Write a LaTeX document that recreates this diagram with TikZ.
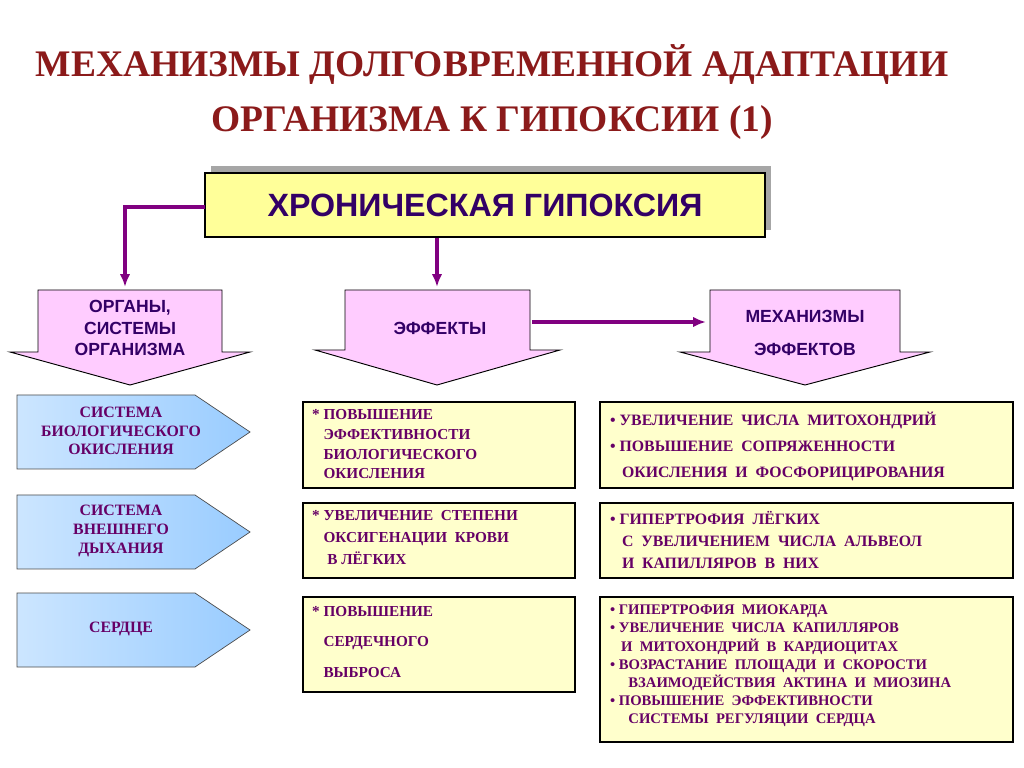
\documentclass[tikz,border=0pt]{standalone}
\usepackage{fontspec}
\usetikzlibrary{arrows.meta}
\setmainfont{Liberation Serif}
\setsansfont{Liberation Sans}
\begin{document}
\begin{tikzpicture}[x=0.03cm,y=-0.03cm]
\definecolor{ttl}{HTML}{8B1A1A}
\definecolor{pur}{HTML}{660066}
\definecolor{dpur}{HTML}{330066}
\definecolor{conn}{HTML}{800080}
\definecolor{yel}{HTML}{FFFF99}
\definecolor{lyel}{HTML}{FFFFCC}
\definecolor{pink}{HTML}{FFCCFF}
\definecolor{lblue}{HTML}{99CCFF}
\tikzset{
 ttltext/.style={font=\fontsize{32}{38}\bfseries, text=ttl},
 downarr/.style={fill=pink, draw=black, line width=0.8pt},
 blarr/.style={left color=lblue!50, right color=lblue, draw=black!70, line width=0.6pt},
 ybox/.style={draw=black, line width=2.4pt, fill=lyel},
 btxt/.style={font=\fontsize{13}{17}\selectfont\bfseries, text=pur, align=left, anchor=north west},
 ltxt/.style={font=\fontsize{13.5}{16}\selectfont\bfseries, text=pur, align=center},
 atxt/.style={font=\sffamily\fontsize{15}{18}\selectfont\bfseries, text=dpur, align=center},
 conline/.style={draw=conn, line width=3pt, -{Latex[length=11pt,width=9pt]}}
}
\useasboundingbox (0,0) rectangle (1024,768);
\fill[white] (0,0) rectangle (1024,768);
\node[ttltext] (t1) at (492,65) {МЕХАНИЗМЫ ДОЛГОВРЕМЕННОЙ АДАПТАЦИИ};
\node[ttltext] (t2) at (492,122) {ОРГАНИЗМА К ГИПОКСИИ (1)};
% main box
\fill[gray!70] (211,166) rectangle (771,230);
\node[draw=black, line width=2.4pt, fill=yel, minimum width=560*0.03cm, minimum height=64*0.03cm,
 font=\sffamily\fontsize{27.5}{30}\selectfont\bfseries, text=dpur] (hb) at (485,205) {ХРОНИЧЕСКАЯ ГИПОКСИЯ};
% down arrows
\draw[downarr] (38,290) -- (222,290) -- (222,352) -- (250,352) -- (130,385) -- (10,352) -- (38,352) -- cycle;
\draw[downarr] (345,290) -- (530,290) -- (530,350) -- (560,350) -- (437,385) -- (315,350) -- (345,350) -- cycle;
\draw[downarr] (710,290) -- (900,290) -- (900,352) -- (930,352) -- (805,385) -- (680,352) -- (710,352) -- cycle;
\node[atxt] (a1) at (130,328) {ОРГАНЫ,\\СИСТЕМЫ\\ОРГАНИЗМА};
\node[atxt] (a2) at (440,328) {ЭФФЕКТЫ};
\node[atxt, font=\sffamily\fontsize{15}{28}\selectfont\bfseries] (a3) at (805,333) {МЕХАНИЗМЫ\\ЭФФЕКТОВ};
\coordinate (a1t) at (125,287);
\coordinate (a2t) at (437,287);
\coordinate (hbl) at (205,207);
\coordinate (a2r) at (532,322);
\coordinate (a3l) at (706,322);
% connectors
\draw[conline] (hbl) -- (125,207) -- (a1t);
\draw[conline] (hb.south -| a2t) -- (a2t);
\draw[conline] (a2r) -- (a3l);
% blue arrows
\foreach \y/\n/\t in {395/b1/{СИСТЕМА\\БИОЛОГИЧЕСКОГО\\ОКИСЛЕНИЯ}, 495/b2/{СИСТЕМА\\ВНЕШНЕГО\\ДЫХАНИЯ}, 593/b3/{СЕРДЦЕ}}{
 \draw[blarr] (17,\y) -- (195,\y) -- (250,\y+37) -- (195,\y+74) -- (17,\y+74) -- cycle;
 \node[ltxt] (\n) at (121,\y+36) {\t};
}
% middle boxes
\draw[ybox] (303,402) rectangle (575,488);
\draw[ybox] (303,503) rectangle (575,578);
\draw[ybox] (303,597) rectangle (575,692);
\node[btxt] (m1) at (308,405) {* ПОВЫШЕНИЕ\\\ \ \ ЭФФЕКТИВНОСТИ\\\ \ \ БИОЛОГИЧЕСКОГО\\\ \ \ ОКИСЛЕНИЯ};
\node[btxt, font=\fontsize{13}{19}\selectfont\bfseries] (m2) at (308,506) {* УВЕЛИЧЕНИЕ\ \ СТЕПЕНИ\\\ \ \ ОКСИГЕНАЦИИ\ \ КРОВИ\\\ \ \ \ В ЛЁГКИХ};
\node[btxt, font=\fontsize{13}{26}\selectfont\bfseries] (m3) at (308,602) {* ПОВЫШЕНИЕ\\\ \ \ СЕРДЕЧНОГО\\\ \ \ ВЫБРОСА};
% right boxes
\draw[ybox] (600,402) rectangle (1013,488);
\draw[ybox] (600,503) rectangle (1013,578);
\draw[ybox] (600,597) rectangle (1013,742);
\node[btxt, font=\fontsize{13.5}{22}\selectfont\bfseries] (r1) at (606,408) {• УВЕЛИЧЕНИЕ\ \ ЧИСЛА\ \ МИТОХОНДРИЙ\\• ПОВЫШЕНИЕ\ \ СОПРЯЖЕННОСТИ\\\ \ \ ОКИСЛЕНИЯ\ \ И\ \ ФОСФОРИЦИРОВАНИЯ};
\node[btxt, font=\fontsize{13.5}{19}\selectfont\bfseries] (r2) at (606,507) {• ГИПЕРТРОФИЯ\ \ ЛЁГКИХ\\\ \ \ С\ \ УВЕЛИЧЕНИЕМ\ \ ЧИСЛА\ \ АЛЬВЕОЛ\\\ \ \ И\ \ КАПИЛЛЯРОВ\ \ В\ \ НИХ};
\node[btxt, font=\fontsize{12.5}{15.5}\selectfont\bfseries] (r3) at (606,601) {• ГИПЕРТРОФИЯ\ \ МИОКАРДА\\• УВЕЛИЧЕНИЕ\ \ ЧИСЛА\ \ КАПИЛЛЯРОВ\\\ \ \ И\ \ МИТОХОНДРИЙ\ \ В\ \ КАРДИОЦИТАХ\\• ВОЗРАСТАНИЕ\ \ ПЛОЩАДИ\ \ И\ \ СКОРОСТИ\\\ \ \ \ \ ВЗАИМОДЕЙСТВИЯ\ \ АКТИНА\ \ И\ \ МИОЗИНА\\• ПОВЫШЕНИЕ\ \ ЭФФЕКТИВНОСТИ\\\ \ \ \ \ СИСТЕМЫ\ \ РЕГУЛЯЦИИ\ \ СЕРДЦА};
\end{tikzpicture}
\end{document}
